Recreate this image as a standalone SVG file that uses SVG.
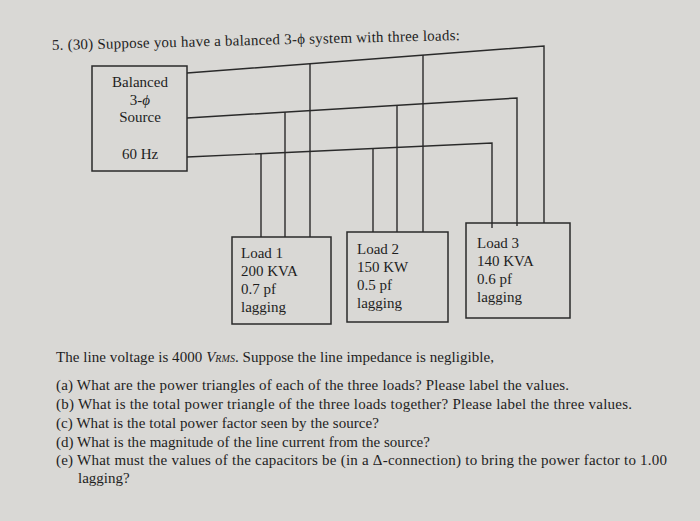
<svg xmlns="http://www.w3.org/2000/svg" width="700" height="521" viewBox="0 0 700 521">
<style>
text{font-family:"Liberation Serif","DejaVu Serif",serif;fill:#1e1e1e;font-size:15px}
.box{fill:none;stroke:#2a2a2a;stroke-width:1.5}
.w{fill:none;stroke:#2a2a2a;stroke-width:1.4}
.c{text-anchor:middle}
</style>
<rect width="700" height="521" fill="#d9d8d5"/>
<text x="52" y="50" transform="rotate(-1.4 52 50)" textLength="408">5. (30) Suppose you have a balanced 3-ϕ system with three loads:</text>
<g id="source">
<rect class="box" x="92" y="66" width="95" height="105"/>
<text class="c" x="140" y="87">Balanced</text>
<text class="c" x="140" y="105">3-<tspan font-style="italic">ϕ</tspan></text>
<text class="c" x="140" y="122">Source</text>
<text class="c" x="140" y="159">60 Hz</text>
</g>
<g id="connectors">
<polyline class="w" points="187,73 544,46 544,223"/>
<polyline class="w" points="187,118 517,98 517,226"/>
<polyline class="w" points="187,157 492,143 492,228"/>
<line class="w" x1="310" y1="64" x2="310" y2="237"/>
<line class="w" x1="285" y1="112" x2="285" y2="237"/>
<line class="w" x1="261" y1="154" x2="261" y2="237"/>
<line class="w" x1="423" y1="55" x2="423" y2="232"/>
<line class="w" x1="397" y1="105" x2="397" y2="232"/>
<line class="w" x1="373" y1="149" x2="373" y2="232"/>
</g>
<g id="load1">
<rect class="box" x="232" y="237" width="99" height="87"/>
<text x="241" y="258">Load 1</text><text x="241" y="276">200 KVA</text><text x="241" y="294">0.7 pf</text><text x="241" y="312">lagging</text>
</g>
<g id="load2">
<rect class="box" x="347" y="232" width="101" height="90"/>
<text x="357" y="254">Load 2</text><text x="357" y="272">150 KW</text><text x="357" y="290">0.5 pf</text><text x="357" y="308">lagging</text>
</g>
<g id="load3">
<rect class="box" x="466" y="223" width="104" height="95"/>
<text x="477" y="248">Load 3</text><text x="477" y="266">140 KVA</text><text x="477" y="284">0.6 pf</text><text x="477" y="302">lagging</text>
</g>
<text x="56" y="362" textLength="438">The line voltage is 4000 <tspan font-style="italic">V</tspan><tspan font-style="italic" font-size="10">RMS</tspan>. Suppose the line impedance is negligible,</text>
<text x="56" y="390" textLength="513">(a) What are the power triangles of each of the three loads?  Please label the values.</text>
<text x="56" y="409" textLength="576">(b) What is the total power triangle of the three loads together?  Please label the three values.</text>
<text x="56" y="428" textLength="323">(c) What is the total power factor seen by the source?</text>
<text x="56" y="447" textLength="374">(d) What is the magnitude of the line current from the source?</text>
<text x="56" y="465" textLength="611">(e) What must the values of the capacitors be (in a Δ-connection) to bring the power factor to 1.00</text>
<text x="78" y="483">lagging?</text>
</svg>
